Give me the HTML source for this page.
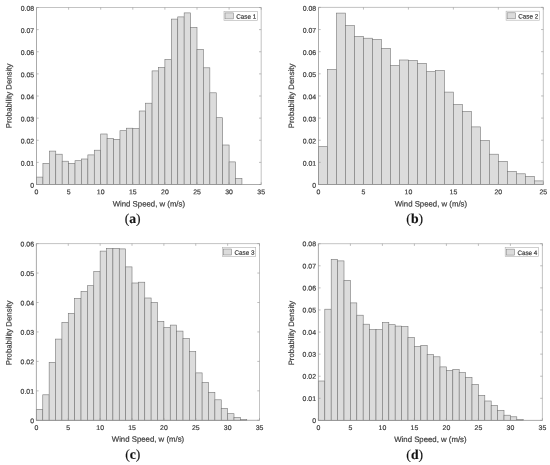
<!DOCTYPE html>
<html><head><meta charset="utf-8"><title>Wind speed histograms</title>
<style>
html,body{margin:0;padding:0;background:#fff}
body{width:550px;height:465px;overflow:hidden}
svg{display:block;font-family:"Liberation Sans",sans-serif;fill:#3c3c3c;text-rendering:geometricPrecision}
text{stroke:#3c3c3c;stroke-width:0.2px}
</style></head>
<body>
<svg width="550" height="465" viewBox="0 0 550 465">
<rect width="550" height="465" fill="#fff"/>
<rect x="36.5" y="177.1" width="6.42" height="7.4" fill="#dcdcdc" stroke="#767676" stroke-width="0.6"/>
<rect x="42.92" y="163.3" width="6.42" height="21.2" fill="#dcdcdc" stroke="#767676" stroke-width="0.6"/>
<rect x="49.34" y="151.1" width="6.42" height="33.4" fill="#dcdcdc" stroke="#767676" stroke-width="0.6"/>
<rect x="55.76" y="154.2" width="6.42" height="30.3" fill="#dcdcdc" stroke="#767676" stroke-width="0.6"/>
<rect x="62.18" y="161.2" width="6.42" height="23.3" fill="#dcdcdc" stroke="#767676" stroke-width="0.6"/>
<rect x="68.6" y="163.3" width="6.42" height="21.2" fill="#dcdcdc" stroke="#767676" stroke-width="0.6"/>
<rect x="75.02" y="160.7" width="6.42" height="23.8" fill="#dcdcdc" stroke="#767676" stroke-width="0.6"/>
<rect x="81.44" y="159" width="6.42" height="25.5" fill="#dcdcdc" stroke="#767676" stroke-width="0.6"/>
<rect x="87.86" y="154.9" width="6.42" height="29.6" fill="#dcdcdc" stroke="#767676" stroke-width="0.6"/>
<rect x="94.28" y="150.2" width="6.42" height="34.3" fill="#dcdcdc" stroke="#767676" stroke-width="0.6"/>
<rect x="100.7" y="134" width="6.42" height="50.5" fill="#dcdcdc" stroke="#767676" stroke-width="0.6"/>
<rect x="107.12" y="138.5" width="6.42" height="46" fill="#dcdcdc" stroke="#767676" stroke-width="0.6"/>
<rect x="113.54" y="139.3" width="6.42" height="45.2" fill="#dcdcdc" stroke="#767676" stroke-width="0.6"/>
<rect x="119.96" y="130.7" width="6.42" height="53.8" fill="#dcdcdc" stroke="#767676" stroke-width="0.6"/>
<rect x="126.38" y="128.2" width="6.42" height="56.3" fill="#dcdcdc" stroke="#767676" stroke-width="0.6"/>
<rect x="132.8" y="128.5" width="6.42" height="56" fill="#dcdcdc" stroke="#767676" stroke-width="0.6"/>
<rect x="139.22" y="111" width="6.42" height="73.5" fill="#dcdcdc" stroke="#767676" stroke-width="0.6"/>
<rect x="145.64" y="103.2" width="6.42" height="81.3" fill="#dcdcdc" stroke="#767676" stroke-width="0.6"/>
<rect x="152.06" y="70.9" width="6.42" height="113.6" fill="#dcdcdc" stroke="#767676" stroke-width="0.6"/>
<rect x="158.48" y="67.4" width="6.42" height="117.1" fill="#dcdcdc" stroke="#767676" stroke-width="0.6"/>
<rect x="164.9" y="59.4" width="6.42" height="125.1" fill="#dcdcdc" stroke="#767676" stroke-width="0.6"/>
<rect x="171.32" y="19.1" width="6.42" height="165.4" fill="#dcdcdc" stroke="#767676" stroke-width="0.6"/>
<rect x="177.74" y="16.9" width="6.42" height="167.6" fill="#dcdcdc" stroke="#767676" stroke-width="0.6"/>
<rect x="184.16" y="12.9" width="6.42" height="171.6" fill="#dcdcdc" stroke="#767676" stroke-width="0.6"/>
<rect x="190.58" y="27.4" width="6.42" height="157.1" fill="#dcdcdc" stroke="#767676" stroke-width="0.6"/>
<rect x="197" y="49.3" width="6.42" height="135.2" fill="#dcdcdc" stroke="#767676" stroke-width="0.6"/>
<rect x="203.42" y="67.8" width="6.42" height="116.7" fill="#dcdcdc" stroke="#767676" stroke-width="0.6"/>
<rect x="209.84" y="92.8" width="6.42" height="91.7" fill="#dcdcdc" stroke="#767676" stroke-width="0.6"/>
<rect x="216.26" y="117.7" width="6.42" height="66.8" fill="#dcdcdc" stroke="#767676" stroke-width="0.6"/>
<rect x="222.68" y="145" width="6.42" height="39.5" fill="#dcdcdc" stroke="#767676" stroke-width="0.6"/>
<rect x="229.1" y="161.9" width="6.42" height="22.6" fill="#dcdcdc" stroke="#767676" stroke-width="0.6"/>
<rect x="235.52" y="178.3" width="6.42" height="6.2" fill="#dcdcdc" stroke="#767676" stroke-width="0.6"/>
<path d="M36.5 7.5H261.2V184.5" fill="none" stroke="#b4b4b4" stroke-width="0.8"/>
<path d="M36.5 7.5V184.5H261.2" fill="none" stroke="#949494" stroke-width="0.8"/>
<text transform="translate(34.1 187.8) rotate(0.05)" text-anchor="end" font-size="6.9">0</text>
<text transform="translate(34.1 165.68) rotate(0.05)" text-anchor="end" font-size="6.9">0.01</text>
<text transform="translate(34.1 143.55) rotate(0.05)" text-anchor="end" font-size="6.9">0.02</text>
<text transform="translate(34.1 121.42) rotate(0.05)" text-anchor="end" font-size="6.9">0.03</text>
<text transform="translate(34.1 99.3) rotate(0.05)" text-anchor="end" font-size="6.9">0.04</text>
<text transform="translate(34.1 77.17) rotate(0.05)" text-anchor="end" font-size="6.9">0.05</text>
<text transform="translate(34.1 55.05) rotate(0.05)" text-anchor="end" font-size="6.9">0.06</text>
<text transform="translate(34.1 32.92) rotate(0.05)" text-anchor="end" font-size="6.9">0.07</text>
<text transform="translate(34.1 10.8) rotate(0.05)" text-anchor="end" font-size="6.9">0.08</text>
<text transform="translate(36.5 194.15) rotate(0.05)" text-anchor="middle" font-size="6.9">0</text>
<text transform="translate(68.6 194.15) rotate(0.05)" text-anchor="middle" font-size="6.9">5</text>
<text transform="translate(100.7 194.15) rotate(0.05)" text-anchor="middle" font-size="6.9">10</text>
<text transform="translate(132.8 194.15) rotate(0.05)" text-anchor="middle" font-size="6.9">15</text>
<text transform="translate(164.9 194.15) rotate(0.05)" text-anchor="middle" font-size="6.9">20</text>
<text transform="translate(197 194.15) rotate(0.05)" text-anchor="middle" font-size="6.9">25</text>
<text transform="translate(229.1 194.15) rotate(0.05)" text-anchor="middle" font-size="6.9">30</text>
<text transform="translate(261.2 194.15) rotate(0.05)" text-anchor="middle" font-size="6.9">35</text>
<path d="M36.5 184.5h2.2M261.2 184.5h-2.2M36.5 162.38h2.2M261.2 162.38h-2.2M36.5 140.25h2.2M261.2 140.25h-2.2M36.5 118.12h2.2M261.2 118.12h-2.2M36.5 96h2.2M261.2 96h-2.2M36.5 73.88h2.2M261.2 73.88h-2.2M36.5 51.75h2.2M261.2 51.75h-2.2M36.5 29.62h2.2M261.2 29.62h-2.2M36.5 7.5h2.2M261.2 7.5h-2.2M36.5 184.5v-2.2M36.5 7.5v2.2M68.6 184.5v-2.2M68.6 7.5v2.2M100.7 184.5v-2.2M100.7 7.5v2.2M132.8 184.5v-2.2M132.8 7.5v2.2M164.9 184.5v-2.2M164.9 7.5v2.2M197 184.5v-2.2M197 7.5v2.2M229.1 184.5v-2.2M229.1 7.5v2.2M261.2 184.5v-2.2M261.2 7.5v2.2" fill="none" stroke="#949494" stroke-width="0.6"/>
<text transform="translate(148.85 206.5) rotate(0.05)" text-anchor="middle" font-size="7.8">Wind Speed, w (m/s)</text>
<text transform="translate(11.5 96) rotate(-89.94)" text-anchor="middle" font-size="7.8">Probability Density</text>
<rect x="224" y="11.3" width="33.4" height="9.0" fill="#fff" stroke="#b0b0b0" stroke-width="0.6"/>
<rect x="225" y="12.9" width="8.4" height="6.0" fill="#dcdcdc" stroke="#767676" stroke-width="0.5"/>
<text transform="translate(236.2 18.7) rotate(0.05)" font-size="6.3">Case 1</text>
<text transform="translate(132.65 223) rotate(0.05)" text-anchor="middle" font-family="'Liberation Serif', serif" font-size="13.7" fill="#111" stroke="none">(<tspan font-weight="bold">a</tspan>)</text>
<rect x="318.5" y="146.5" width="8.99" height="38" fill="#dcdcdc" stroke="#767676" stroke-width="0.6"/>
<rect x="327.49" y="69.5" width="8.99" height="115" fill="#dcdcdc" stroke="#767676" stroke-width="0.6"/>
<rect x="336.48" y="13.1" width="8.99" height="171.4" fill="#dcdcdc" stroke="#767676" stroke-width="0.6"/>
<rect x="345.48" y="25.6" width="8.99" height="158.9" fill="#dcdcdc" stroke="#767676" stroke-width="0.6"/>
<rect x="354.47" y="36.3" width="8.99" height="148.2" fill="#dcdcdc" stroke="#767676" stroke-width="0.6"/>
<rect x="363.46" y="38.2" width="8.99" height="146.3" fill="#dcdcdc" stroke="#767676" stroke-width="0.6"/>
<rect x="372.45" y="39.5" width="8.99" height="145" fill="#dcdcdc" stroke="#767676" stroke-width="0.6"/>
<rect x="381.44" y="48.3" width="8.99" height="136.2" fill="#dcdcdc" stroke="#767676" stroke-width="0.6"/>
<rect x="390.44" y="65.5" width="8.99" height="119" fill="#dcdcdc" stroke="#767676" stroke-width="0.6"/>
<rect x="399.43" y="60" width="8.99" height="124.5" fill="#dcdcdc" stroke="#767676" stroke-width="0.6"/>
<rect x="408.42" y="60.5" width="8.99" height="124" fill="#dcdcdc" stroke="#767676" stroke-width="0.6"/>
<rect x="417.41" y="63.3" width="8.99" height="121.2" fill="#dcdcdc" stroke="#767676" stroke-width="0.6"/>
<rect x="426.4" y="71.7" width="8.99" height="112.8" fill="#dcdcdc" stroke="#767676" stroke-width="0.6"/>
<rect x="435.4" y="70.4" width="8.99" height="114.1" fill="#dcdcdc" stroke="#767676" stroke-width="0.6"/>
<rect x="444.39" y="92.1" width="8.99" height="92.4" fill="#dcdcdc" stroke="#767676" stroke-width="0.6"/>
<rect x="453.38" y="104.5" width="8.99" height="80" fill="#dcdcdc" stroke="#767676" stroke-width="0.6"/>
<rect x="462.37" y="111.4" width="8.99" height="73.1" fill="#dcdcdc" stroke="#767676" stroke-width="0.6"/>
<rect x="471.36" y="126.9" width="8.99" height="57.6" fill="#dcdcdc" stroke="#767676" stroke-width="0.6"/>
<rect x="480.36" y="140.5" width="8.99" height="44" fill="#dcdcdc" stroke="#767676" stroke-width="0.6"/>
<rect x="489.35" y="154.2" width="8.99" height="30.3" fill="#dcdcdc" stroke="#767676" stroke-width="0.6"/>
<rect x="498.34" y="161.3" width="8.99" height="23.2" fill="#dcdcdc" stroke="#767676" stroke-width="0.6"/>
<rect x="507.33" y="171.4" width="8.99" height="13.1" fill="#dcdcdc" stroke="#767676" stroke-width="0.6"/>
<rect x="516.32" y="173.8" width="8.99" height="10.7" fill="#dcdcdc" stroke="#767676" stroke-width="0.6"/>
<rect x="525.32" y="176.3" width="8.99" height="8.2" fill="#dcdcdc" stroke="#767676" stroke-width="0.6"/>
<rect x="534.31" y="180.9" width="8.99" height="3.6" fill="#dcdcdc" stroke="#767676" stroke-width="0.6"/>
<path d="M318.5 7.4H543.3V184.5" fill="none" stroke="#b4b4b4" stroke-width="0.8"/>
<path d="M318.5 7.4V184.5H543.3" fill="none" stroke="#949494" stroke-width="0.8"/>
<text transform="translate(316.1 187.8) rotate(0.05)" text-anchor="end" font-size="6.9">0</text>
<text transform="translate(316.1 165.66) rotate(0.05)" text-anchor="end" font-size="6.9">0.01</text>
<text transform="translate(316.1 143.53) rotate(0.05)" text-anchor="end" font-size="6.9">0.02</text>
<text transform="translate(316.1 121.39) rotate(0.05)" text-anchor="end" font-size="6.9">0.03</text>
<text transform="translate(316.1 99.25) rotate(0.05)" text-anchor="end" font-size="6.9">0.04</text>
<text transform="translate(316.1 77.11) rotate(0.05)" text-anchor="end" font-size="6.9">0.05</text>
<text transform="translate(316.1 54.98) rotate(0.05)" text-anchor="end" font-size="6.9">0.06</text>
<text transform="translate(316.1 32.84) rotate(0.05)" text-anchor="end" font-size="6.9">0.07</text>
<text transform="translate(316.1 10.7) rotate(0.05)" text-anchor="end" font-size="6.9">0.08</text>
<text transform="translate(318.5 194.15) rotate(0.05)" text-anchor="middle" font-size="6.9">0</text>
<text transform="translate(363.46 194.15) rotate(0.05)" text-anchor="middle" font-size="6.9">5</text>
<text transform="translate(408.42 194.15) rotate(0.05)" text-anchor="middle" font-size="6.9">10</text>
<text transform="translate(453.38 194.15) rotate(0.05)" text-anchor="middle" font-size="6.9">15</text>
<text transform="translate(498.34 194.15) rotate(0.05)" text-anchor="middle" font-size="6.9">20</text>
<text transform="translate(543.3 194.15) rotate(0.05)" text-anchor="middle" font-size="6.9">25</text>
<path d="M318.5 184.5h2.2M543.3 184.5h-2.2M318.5 162.36h2.2M543.3 162.36h-2.2M318.5 140.22h2.2M543.3 140.22h-2.2M318.5 118.09h2.2M543.3 118.09h-2.2M318.5 95.95h2.2M543.3 95.95h-2.2M318.5 73.81h2.2M543.3 73.81h-2.2M318.5 51.68h2.2M543.3 51.68h-2.2M318.5 29.54h2.2M543.3 29.54h-2.2M318.5 7.4h2.2M543.3 7.4h-2.2M318.5 184.5v-2.2M318.5 7.4v2.2M363.46 184.5v-2.2M363.46 7.4v2.2M408.42 184.5v-2.2M408.42 7.4v2.2M453.38 184.5v-2.2M453.38 7.4v2.2M498.34 184.5v-2.2M498.34 7.4v2.2M543.3 184.5v-2.2M543.3 7.4v2.2" fill="none" stroke="#949494" stroke-width="0.6"/>
<text transform="translate(430.9 206.5) rotate(0.05)" text-anchor="middle" font-size="7.8">Wind Speed, w (m/s)</text>
<text transform="translate(294 95.95) rotate(-89.94)" text-anchor="middle" font-size="7.8">Probability Density</text>
<rect x="506.1" y="11.2" width="33.4" height="9.0" fill="#fff" stroke="#b0b0b0" stroke-width="0.6"/>
<rect x="507.1" y="12.8" width="8.4" height="6.0" fill="#dcdcdc" stroke="#767676" stroke-width="0.5"/>
<text transform="translate(518.3 18.6) rotate(0.05)" font-size="6.3">Case 2</text>
<text transform="translate(414.7 223) rotate(0.05)" text-anchor="middle" font-family="'Liberation Serif', serif" font-size="13.7" fill="#111" stroke="none">(<tspan font-weight="bold">b</tspan>)</text>
<rect x="36.4" y="409.3" width="6.37" height="11" fill="#dcdcdc" stroke="#767676" stroke-width="0.6"/>
<rect x="42.77" y="394.8" width="6.37" height="25.5" fill="#dcdcdc" stroke="#767676" stroke-width="0.6"/>
<rect x="49.15" y="362.3" width="6.37" height="58" fill="#dcdcdc" stroke="#767676" stroke-width="0.6"/>
<rect x="55.52" y="339.1" width="6.37" height="81.2" fill="#dcdcdc" stroke="#767676" stroke-width="0.6"/>
<rect x="61.9" y="322.3" width="6.37" height="98" fill="#dcdcdc" stroke="#767676" stroke-width="0.6"/>
<rect x="68.27" y="313.3" width="6.37" height="107" fill="#dcdcdc" stroke="#767676" stroke-width="0.6"/>
<rect x="74.65" y="298.3" width="6.37" height="122" fill="#dcdcdc" stroke="#767676" stroke-width="0.6"/>
<rect x="81.02" y="291.4" width="6.37" height="128.9" fill="#dcdcdc" stroke="#767676" stroke-width="0.6"/>
<rect x="87.39" y="285.7" width="6.37" height="134.6" fill="#dcdcdc" stroke="#767676" stroke-width="0.6"/>
<rect x="93.77" y="271.5" width="6.37" height="148.8" fill="#dcdcdc" stroke="#767676" stroke-width="0.6"/>
<rect x="100.14" y="251.1" width="6.37" height="169.2" fill="#dcdcdc" stroke="#767676" stroke-width="0.6"/>
<rect x="106.52" y="248.4" width="6.37" height="171.9" fill="#dcdcdc" stroke="#767676" stroke-width="0.6"/>
<rect x="112.89" y="248.3" width="6.37" height="172" fill="#dcdcdc" stroke="#767676" stroke-width="0.6"/>
<rect x="119.27" y="248.9" width="6.37" height="171.4" fill="#dcdcdc" stroke="#767676" stroke-width="0.6"/>
<rect x="125.64" y="266.9" width="6.37" height="153.4" fill="#dcdcdc" stroke="#767676" stroke-width="0.6"/>
<rect x="132.01" y="283" width="6.37" height="137.3" fill="#dcdcdc" stroke="#767676" stroke-width="0.6"/>
<rect x="138.39" y="282.2" width="6.37" height="138.1" fill="#dcdcdc" stroke="#767676" stroke-width="0.6"/>
<rect x="144.76" y="298" width="6.37" height="122.3" fill="#dcdcdc" stroke="#767676" stroke-width="0.6"/>
<rect x="151.14" y="302.4" width="6.37" height="117.9" fill="#dcdcdc" stroke="#767676" stroke-width="0.6"/>
<rect x="157.51" y="321.3" width="6.37" height="99" fill="#dcdcdc" stroke="#767676" stroke-width="0.6"/>
<rect x="163.89" y="327.6" width="6.37" height="92.7" fill="#dcdcdc" stroke="#767676" stroke-width="0.6"/>
<rect x="170.26" y="325.1" width="6.37" height="95.2" fill="#dcdcdc" stroke="#767676" stroke-width="0.6"/>
<rect x="176.63" y="331.1" width="6.37" height="89.2" fill="#dcdcdc" stroke="#767676" stroke-width="0.6"/>
<rect x="183.01" y="338.5" width="6.37" height="81.8" fill="#dcdcdc" stroke="#767676" stroke-width="0.6"/>
<rect x="189.38" y="351.6" width="6.37" height="68.7" fill="#dcdcdc" stroke="#767676" stroke-width="0.6"/>
<rect x="195.76" y="372.9" width="6.37" height="47.4" fill="#dcdcdc" stroke="#767676" stroke-width="0.6"/>
<rect x="202.13" y="382.4" width="6.37" height="37.9" fill="#dcdcdc" stroke="#767676" stroke-width="0.6"/>
<rect x="208.51" y="392.3" width="6.37" height="28" fill="#dcdcdc" stroke="#767676" stroke-width="0.6"/>
<rect x="214.88" y="399.8" width="6.37" height="20.5" fill="#dcdcdc" stroke="#767676" stroke-width="0.6"/>
<rect x="221.25" y="408.3" width="6.37" height="12" fill="#dcdcdc" stroke="#767676" stroke-width="0.6"/>
<rect x="227.63" y="413.7" width="6.37" height="6.6" fill="#dcdcdc" stroke="#767676" stroke-width="0.6"/>
<rect x="234" y="417.4" width="6.37" height="2.9" fill="#dcdcdc" stroke="#767676" stroke-width="0.6"/>
<rect x="240.38" y="419.4" width="6.37" height="0.9" fill="#dcdcdc" stroke="#767676" stroke-width="0.6"/>
<path d="M36.4 243.6H259.5V420.3" fill="none" stroke="#b4b4b4" stroke-width="0.8"/>
<path d="M36.4 243.6V420.3H259.5" fill="none" stroke="#949494" stroke-width="0.8"/>
<text transform="translate(34 423.2) rotate(0.05)" text-anchor="end" font-size="6.9">0</text>
<text transform="translate(34 393.75) rotate(0.05)" text-anchor="end" font-size="6.9">0.01</text>
<text transform="translate(34 364.3) rotate(0.05)" text-anchor="end" font-size="6.9">0.02</text>
<text transform="translate(34 334.85) rotate(0.05)" text-anchor="end" font-size="6.9">0.03</text>
<text transform="translate(34 305.4) rotate(0.05)" text-anchor="end" font-size="6.9">0.04</text>
<text transform="translate(34 275.95) rotate(0.05)" text-anchor="end" font-size="6.9">0.05</text>
<text transform="translate(34 246.5) rotate(0.05)" text-anchor="end" font-size="6.9">0.06</text>
<text transform="translate(36.4 429.95) rotate(0.05)" text-anchor="middle" font-size="6.9">0</text>
<text transform="translate(68.27 429.95) rotate(0.05)" text-anchor="middle" font-size="6.9">5</text>
<text transform="translate(100.14 429.95) rotate(0.05)" text-anchor="middle" font-size="6.9">10</text>
<text transform="translate(132.01 429.95) rotate(0.05)" text-anchor="middle" font-size="6.9">15</text>
<text transform="translate(163.89 429.95) rotate(0.05)" text-anchor="middle" font-size="6.9">20</text>
<text transform="translate(195.76 429.95) rotate(0.05)" text-anchor="middle" font-size="6.9">25</text>
<text transform="translate(227.63 429.95) rotate(0.05)" text-anchor="middle" font-size="6.9">30</text>
<text transform="translate(259.5 429.95) rotate(0.05)" text-anchor="middle" font-size="6.9">35</text>
<path d="M36.4 420.3h2.2M259.5 420.3h-2.2M36.4 390.85h2.2M259.5 390.85h-2.2M36.4 361.4h2.2M259.5 361.4h-2.2M36.4 331.95h2.2M259.5 331.95h-2.2M36.4 302.5h2.2M259.5 302.5h-2.2M36.4 273.05h2.2M259.5 273.05h-2.2M36.4 243.6h2.2M259.5 243.6h-2.2M36.4 420.3v-2.2M36.4 243.6v2.2M68.27 420.3v-2.2M68.27 243.6v2.2M100.14 420.3v-2.2M100.14 243.6v2.2M132.01 420.3v-2.2M132.01 243.6v2.2M163.89 420.3v-2.2M163.89 243.6v2.2M195.76 420.3v-2.2M195.76 243.6v2.2M227.63 420.3v-2.2M227.63 243.6v2.2M259.5 420.3v-2.2M259.5 243.6v2.2" fill="none" stroke="#949494" stroke-width="0.6"/>
<text transform="translate(147.95 441.7) rotate(0.05)" text-anchor="middle" font-size="7.8">Wind Speed, w (m/s)</text>
<text transform="translate(11.45 332.95) rotate(-89.94)" text-anchor="middle" font-size="7.8">Probability Density</text>
<rect x="222.3" y="247.4" width="33.4" height="9.0" fill="#fff" stroke="#b0b0b0" stroke-width="0.6"/>
<rect x="223.3" y="249" width="8.4" height="6.0" fill="#dcdcdc" stroke="#767676" stroke-width="0.5"/>
<text transform="translate(234.5 254.8) rotate(0.05)" font-size="6.3">Case 3</text>
<text transform="translate(132.75 458.8) rotate(0.05)" text-anchor="middle" font-family="'Liberation Serif', serif" font-size="13.7" fill="#111" stroke="none">(<tspan font-weight="bold">c</tspan>)</text>
<rect x="318.4" y="381" width="6.4" height="39.4" fill="#dcdcdc" stroke="#767676" stroke-width="0.6"/>
<rect x="324.8" y="309.2" width="6.4" height="111.2" fill="#dcdcdc" stroke="#767676" stroke-width="0.6"/>
<rect x="331.2" y="259.3" width="6.4" height="161.1" fill="#dcdcdc" stroke="#767676" stroke-width="0.6"/>
<rect x="337.6" y="260.9" width="6.4" height="159.5" fill="#dcdcdc" stroke="#767676" stroke-width="0.6"/>
<rect x="344" y="280.3" width="6.4" height="140.1" fill="#dcdcdc" stroke="#767676" stroke-width="0.6"/>
<rect x="350.4" y="302.9" width="6.4" height="117.5" fill="#dcdcdc" stroke="#767676" stroke-width="0.6"/>
<rect x="356.8" y="315.2" width="6.4" height="105.2" fill="#dcdcdc" stroke="#767676" stroke-width="0.6"/>
<rect x="363.2" y="324.2" width="6.4" height="96.2" fill="#dcdcdc" stroke="#767676" stroke-width="0.6"/>
<rect x="369.6" y="329.6" width="6.4" height="90.8" fill="#dcdcdc" stroke="#767676" stroke-width="0.6"/>
<rect x="376" y="329.6" width="6.4" height="90.8" fill="#dcdcdc" stroke="#767676" stroke-width="0.6"/>
<rect x="382.4" y="322.5" width="6.4" height="97.9" fill="#dcdcdc" stroke="#767676" stroke-width="0.6"/>
<rect x="388.8" y="324.7" width="6.4" height="95.7" fill="#dcdcdc" stroke="#767676" stroke-width="0.6"/>
<rect x="395.2" y="326.1" width="6.4" height="94.3" fill="#dcdcdc" stroke="#767676" stroke-width="0.6"/>
<rect x="401.6" y="326.5" width="6.4" height="93.9" fill="#dcdcdc" stroke="#767676" stroke-width="0.6"/>
<rect x="408" y="337.4" width="6.4" height="83" fill="#dcdcdc" stroke="#767676" stroke-width="0.6"/>
<rect x="414.4" y="346.5" width="6.4" height="73.9" fill="#dcdcdc" stroke="#767676" stroke-width="0.6"/>
<rect x="420.8" y="345.4" width="6.4" height="75" fill="#dcdcdc" stroke="#767676" stroke-width="0.6"/>
<rect x="427.2" y="354.6" width="6.4" height="65.8" fill="#dcdcdc" stroke="#767676" stroke-width="0.6"/>
<rect x="433.6" y="356.8" width="6.4" height="63.6" fill="#dcdcdc" stroke="#767676" stroke-width="0.6"/>
<rect x="440" y="366.9" width="6.4" height="53.5" fill="#dcdcdc" stroke="#767676" stroke-width="0.6"/>
<rect x="446.4" y="370.5" width="6.4" height="49.9" fill="#dcdcdc" stroke="#767676" stroke-width="0.6"/>
<rect x="452.8" y="369.4" width="6.4" height="51" fill="#dcdcdc" stroke="#767676" stroke-width="0.6"/>
<rect x="459.2" y="372.6" width="6.4" height="47.8" fill="#dcdcdc" stroke="#767676" stroke-width="0.6"/>
<rect x="465.6" y="377.3" width="6.4" height="43.1" fill="#dcdcdc" stroke="#767676" stroke-width="0.6"/>
<rect x="472" y="384.4" width="6.4" height="36" fill="#dcdcdc" stroke="#767676" stroke-width="0.6"/>
<rect x="478.4" y="395.3" width="6.4" height="25.1" fill="#dcdcdc" stroke="#767676" stroke-width="0.6"/>
<rect x="484.8" y="401" width="6.4" height="19.4" fill="#dcdcdc" stroke="#767676" stroke-width="0.6"/>
<rect x="491.2" y="405.4" width="6.4" height="15" fill="#dcdcdc" stroke="#767676" stroke-width="0.6"/>
<rect x="497.6" y="410.3" width="6.4" height="10.1" fill="#dcdcdc" stroke="#767676" stroke-width="0.6"/>
<rect x="504" y="415.2" width="6.4" height="5.2" fill="#dcdcdc" stroke="#767676" stroke-width="0.6"/>
<rect x="510.4" y="416.8" width="6.4" height="3.6" fill="#dcdcdc" stroke="#767676" stroke-width="0.6"/>
<rect x="516.8" y="419.3" width="6.4" height="1.1" fill="#dcdcdc" stroke="#767676" stroke-width="0.6"/>
<path d="M318.4 243.7H542.4V420.4" fill="none" stroke="#b4b4b4" stroke-width="0.8"/>
<path d="M318.4 243.7V420.4H542.4" fill="none" stroke="#949494" stroke-width="0.8"/>
<text transform="translate(316 423) rotate(0.05)" text-anchor="end" font-size="6.9">0</text>
<text transform="translate(316 400.91) rotate(0.05)" text-anchor="end" font-size="6.9">0.01</text>
<text transform="translate(316 378.82) rotate(0.05)" text-anchor="end" font-size="6.9">0.02</text>
<text transform="translate(316 356.74) rotate(0.05)" text-anchor="end" font-size="6.9">0.03</text>
<text transform="translate(316 334.65) rotate(0.05)" text-anchor="end" font-size="6.9">0.04</text>
<text transform="translate(316 312.56) rotate(0.05)" text-anchor="end" font-size="6.9">0.05</text>
<text transform="translate(316 290.48) rotate(0.05)" text-anchor="end" font-size="6.9">0.06</text>
<text transform="translate(316 268.39) rotate(0.05)" text-anchor="end" font-size="6.9">0.07</text>
<text transform="translate(316 246.3) rotate(0.05)" text-anchor="end" font-size="6.9">0.08</text>
<text transform="translate(318.4 430.05) rotate(0.05)" text-anchor="middle" font-size="6.9">0</text>
<text transform="translate(350.4 430.05) rotate(0.05)" text-anchor="middle" font-size="6.9">5</text>
<text transform="translate(382.4 430.05) rotate(0.05)" text-anchor="middle" font-size="6.9">10</text>
<text transform="translate(414.4 430.05) rotate(0.05)" text-anchor="middle" font-size="6.9">15</text>
<text transform="translate(446.4 430.05) rotate(0.05)" text-anchor="middle" font-size="6.9">20</text>
<text transform="translate(478.4 430.05) rotate(0.05)" text-anchor="middle" font-size="6.9">25</text>
<text transform="translate(510.4 430.05) rotate(0.05)" text-anchor="middle" font-size="6.9">30</text>
<text transform="translate(542.4 430.05) rotate(0.05)" text-anchor="middle" font-size="6.9">35</text>
<path d="M318.4 420.4h2.2M542.4 420.4h-2.2M318.4 398.31h2.2M542.4 398.31h-2.2M318.4 376.22h2.2M542.4 376.22h-2.2M318.4 354.14h2.2M542.4 354.14h-2.2M318.4 332.05h2.2M542.4 332.05h-2.2M318.4 309.96h2.2M542.4 309.96h-2.2M318.4 287.88h2.2M542.4 287.88h-2.2M318.4 265.79h2.2M542.4 265.79h-2.2M318.4 243.7h2.2M542.4 243.7h-2.2M318.4 420.4v-2.2M318.4 243.7v2.2M350.4 420.4v-2.2M350.4 243.7v2.2M382.4 420.4v-2.2M382.4 243.7v2.2M414.4 420.4v-2.2M414.4 243.7v2.2M446.4 420.4v-2.2M446.4 243.7v2.2M478.4 420.4v-2.2M478.4 243.7v2.2M510.4 420.4v-2.2M510.4 243.7v2.2M542.4 420.4v-2.2M542.4 243.7v2.2" fill="none" stroke="#949494" stroke-width="0.6"/>
<text transform="translate(430.4 442) rotate(0.05)" text-anchor="middle" font-size="7.8">Wind Speed, w (m/s)</text>
<text transform="translate(294 333.05) rotate(-89.94)" text-anchor="middle" font-size="7.8">Probability Density</text>
<rect x="505.2" y="247.5" width="33.4" height="9.0" fill="#fff" stroke="#b0b0b0" stroke-width="0.6"/>
<rect x="506.2" y="249.1" width="8.4" height="6.0" fill="#dcdcdc" stroke="#767676" stroke-width="0.5"/>
<text transform="translate(517.4 254.9) rotate(0.05)" font-size="6.3">Case 4</text>
<text transform="translate(414.7 458.9) rotate(0.05)" text-anchor="middle" font-family="'Liberation Serif', serif" font-size="13.7" fill="#111" stroke="none">(<tspan font-weight="bold">d</tspan>)</text>
</svg>
</body></html>
